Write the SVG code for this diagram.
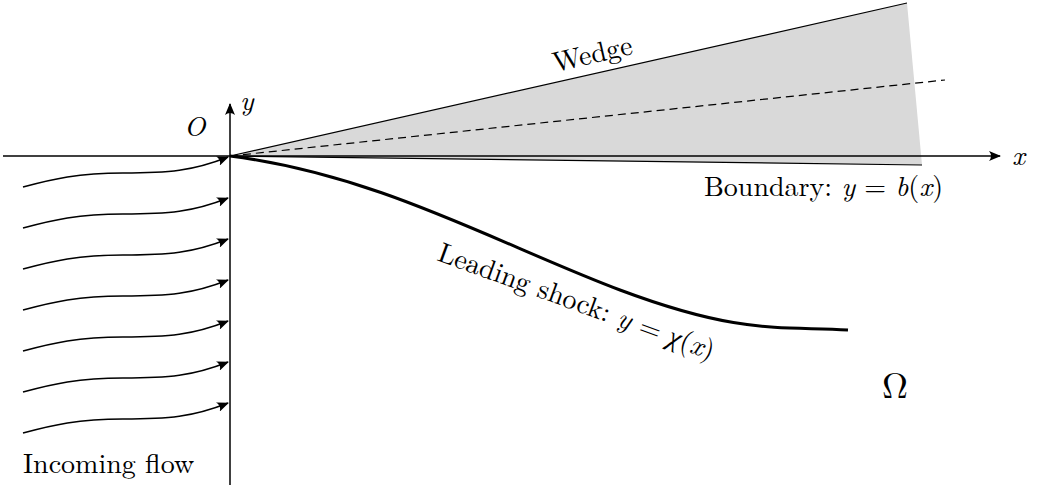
<svg xmlns="http://www.w3.org/2000/svg" width="1050" height="494" viewBox="0 0 1050 494">
<defs>
<marker id="a" markerWidth="12" markerHeight="10" refX="11" refY="5" orient="auto" markerUnits="userSpaceOnUse"><path d="M0 0 Q4 5 0 10 L12 5 Z" fill="#000"/></marker>
<path id="w" d="M0 30 C30 22 55 16 100 16 S170 14 205 0" fill="none" stroke="#000" stroke-width="1.5" marker-end="url(#a)"/>
</defs>
<style>text{font-family:"Latin Modern Roman","Liberation Serif",serif;font-size:28px}.i{font-style:italic}</style>
<rect width="1050" height="494" fill="#fff"/>
<g id="wedge"><polygon points="230,156 907,3 922,165" fill="#d9d9d9"/><polyline points="907,3 230,156 922,165" fill="none" stroke="#000" stroke-width="1.2"/></g>
<g id="connectors">
<line x1="230" y1="156" x2="945" y2="80" stroke="#000" stroke-width="1.2" stroke-dasharray="8,5"/>
<line x1="3" y1="156" x2="1000" y2="156" stroke="#000" stroke-width="1.5" marker-end="url(#a)"/>
<line x1="230" y1="485" x2="230" y2="104" stroke="#000" stroke-width="1.5" marker-end="url(#a)"/>
<path d="M230 156 C380 175 500 245 620 290 S780 326 848 330" fill="none" stroke="#000" stroke-width="3"/>
<use href="#w" x="23" y="157"/><use href="#w" x="23" y="198"/><use href="#w" x="23" y="239"/><use href="#w" x="23" y="280"/><use href="#w" x="23" y="321"/><use href="#w" x="23" y="362"/><use href="#w" x="23" y="403"/>
</g>
<text x="555" y="72" transform="rotate(-13 555 72)">Wedge</text>
<text x="184" y="136" class="i">O</text>
<text x="240" y="110" class="i">y</text>
<text x="1012" y="165" class="i">x</text>
<text x="704" y="196">Boundary: <tspan class="i">y</tspan> = <tspan class="i">b</tspan>(<tspan class="i">x</tspan>)</text>
<text x="436" y="260" transform="rotate(20 436 260)">Leading shock: <tspan class="i">y</tspan> = <tspan class="i">χ</tspan>(<tspan class="i">x</tspan>)</text>
<text x="882" y="398" style="font-size:36px">Ω</text>
<text x="23" y="473">Incoming flow</text>
</svg>
